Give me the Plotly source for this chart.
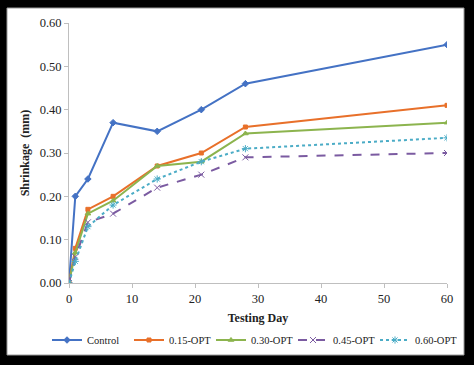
import plotly.graph_objects as go

days = [0, 1, 3, 7, 14, 21, 28, 60]
control = [0.00, 0.20, 0.24, 0.37, 0.35, 0.40, 0.46, 0.55]
opt015 = [0.00, 0.08, 0.17, 0.20, 0.27, 0.30, 0.36, 0.41]
opt030 = [0.00, 0.07, 0.16, 0.19, 0.27, 0.28, 0.345, 0.37]
opt045 = [0.00, 0.06, 0.14, 0.16, 0.22, 0.25, 0.29, 0.30]
opt060 = [0.00, 0.05, 0.13, 0.18, 0.24, 0.28, 0.31, 0.335]

series = [
    ("Control", control, "#4472C4", "solid", "diamond", 5),
    ("0.15-OPT", opt015, "#E8702A", "solid", "square", 4),
    ("0.30-OPT", opt030, "#8CB44E", "solid", "triangle-up", 5),
    ("0.45-OPT", opt045, "#7B5BA1", "dash", "x-thin", 6),
    ("0.60-OPT", opt060, "#4BACC6", "dot", "asterisk", 6),
]

fig = go.Figure()
for name, vals, col, dash, sym, ms in series:
    fig.add_trace(go.Scatter(
        x=days, y=vals, name=name, mode="lines+markers",
        line=dict(color=col, width=2, dash=dash),
        marker=dict(symbol=sym, size=ms, color=col, line=dict(color=col, width=1)),
    ))

W, H = 474, 365
ml, mr, mt, mb = 69, 27, 23, 82
pw, ph = W - ml - mr, H - mt - mb

def px(x):
    return (x - ml) / pw

def py(y):
    return (H - mb - y) / ph

fig.add_shape(type="rect", xref="paper", yref="paper",
              x0=px(7), x1=px(464), y0=py(355), y1=py(8),
              fillcolor="white", line=dict(color="#9a9a9a", width=1), layer="below")

font = "Liberation Serif, Times New Roman, serif"
fig.update_layout(
    width=W, height=H,
    margin=dict(l=ml, r=mr, t=mt, b=mb, autoexpand=False),
    paper_bgcolor="black", plot_bgcolor="rgba(0,0,0,0)",
    font=dict(family=font, size=12, color="#222"),
    showlegend=True,
    legend=dict(orientation="h", x=px(47), xanchor="left", y=py(340), yanchor="middle",
                font=dict(family=font, size=10.5, color="#222"),
                itemwidth=30, entrywidth=37, entrywidthmode="pixels",
                tracegroupgap=0, bgcolor="rgba(0,0,0,0)"),
    xaxis=dict(range=[0, 60], dtick=10, showgrid=False, zeroline=False, automargin=False,
               showline=True, linecolor="#bfbfbf", linewidth=1,
               ticks="outside", ticklen=4, tickcolor="#bfbfbf",
               tickfont=dict(family=font, size=12.5),
               title=dict(text="<b>Testing Day</b>", font=dict(family=font, size=12), standoff=8)),
    yaxis=dict(range=[0, 0.6], dtick=0.1, tickformat=".2f", showgrid=False, zeroline=False,
               automargin=False,
               showline=True, linecolor="#bfbfbf", linewidth=1,
               ticks="outside", ticklen=4, tickcolor="#bfbfbf",
               tickfont=dict(family=font, size=12.5),
               title=dict(text="<b>Shrinkage  (mm)</b>", font=dict(family=font, size=12), standoff=7)),
)

fig.write_html("out.html", config={"displayModeBar": False},
               post_script="document.body.style.margin='0';")
